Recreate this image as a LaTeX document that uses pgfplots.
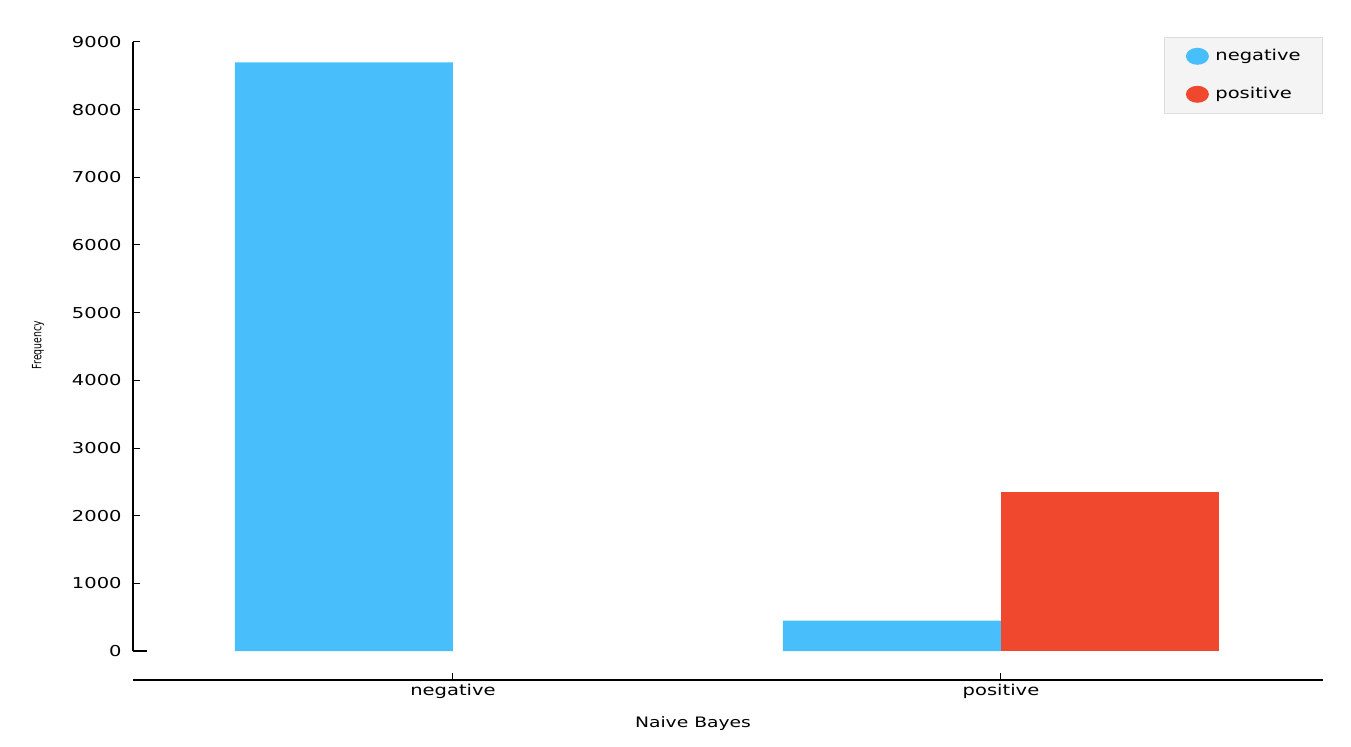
\documentclass[border=0pt]{standalone}
\usepackage{fontspec}
\setmainfont{DejaVu Sans}[FakeStretch=1.3]
\newfontfamily\ylabfont{DejaVu Sans}[FakeStretch=0.73]
\usepackage{pgfplots}
\pgfplotsset{compat=1.18}

\definecolor{negblue}{RGB}{72,190,250}
\definecolor{posred}{RGB}{239,72,47}
\definecolor{legfill}{RGB}{244,244,244}
\definecolor{legdraw}{RGB}{222,222,222}

\begin{document}
\begin{tikzpicture}
\begin{axis}[
    scale only axis,
    width=595pt,
    height=319pt,
    clip=false,
    ybar=0pt,
    bar width=0.398,
    xmin=-0.5839, xmax=1.5876,
    ymin=-428.6, ymax=9000,
    axis x line*=bottom,
    axis y line*=left,
    x axis line style={-, black, line width=0.6pt},
    y axis line style={draw=none},
    tick align=inside,
    major tick length=3.5pt,
    tick style={black, line width=0.5pt},
    xtick={0,1},
    xticklabels={negative, positive},
    ytick={0,1000,...,9000},
    /pgf/number format/assume math mode=true,
    /pgf/number format/1000 sep={},
    ticklabel style={font=\fontsize{7.5pt}{9pt}\selectfont},
    yticklabel style={anchor=east, inner sep=0pt, xshift=-5.5pt},
    xticklabel style={anchor=base, inner sep=0pt, yshift=-7.5pt},
    xlabel={Naive Bayes},
    xlabel style={at={(axis description cs:0.4706,-0.0737)}, anchor=base,
        inner sep=0pt, font=\fontsize{7.2pt}{9pt}\selectfont},
    ylabel={Frequency},
    ylabel style={at={(axis description cs:-0.0798,0.525)}, anchor=center,
        inner sep=0pt, font=\ylabfont\fontsize{6.4pt}{7pt}\selectfont},
    legend style={at={(axis description cs:0.8664,1.008)}, anchor=north west,
        fill=legfill, draw=legdraw, font=\fontsize{7.5pt}{9pt}\selectfont,
        inner sep=0pt, column sep=0pt, row sep=0pt,
        nodes={inner sep=0pt, anchor=west, text width=53.5pt}},
    legend image code/.code={%
        \path[fill=none, draw=none] (-16.5pt,-9.5pt) rectangle (9pt,9.5pt);
        \fill[#1] (0pt,0pt) ellipse [x radius=5.75pt, y radius=4.25pt];},
]

% blue series: predicted negative
\addplot[fill=negblue, draw=none] coordinates {
    (0, 8700)
    (1, 448)
};
\addlegendentry{negative}

% red series: predicted positive
\addplot[fill=posred, draw=none] coordinates {
    (1, 2350)
};
\addlegendentry{positive}

% y axis line only spans the data range, with a longer tick at zero
\draw[black, line width=0.6pt] (axis cs:-0.5839,0) -- (axis cs:-0.5839,9000);
\draw[black, line width=0.6pt] (axis cs:-0.5839,0) -- ([xshift=7pt]axis cs:-0.5839,0);

\end{axis}
\path (current axis.south west) ++(-66.5pt,-33pt)
      (current axis.north east) ++(14pt,21pt);
\end{tikzpicture}
\end{document}
